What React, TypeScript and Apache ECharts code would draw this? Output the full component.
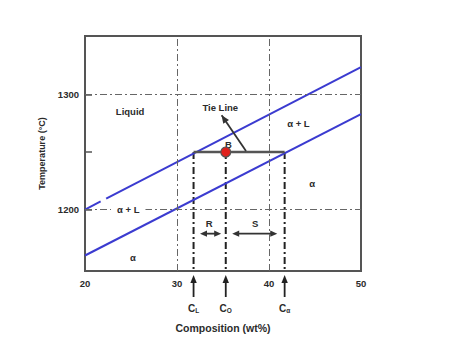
import React, { useEffect, useRef } from "react";
import * as echarts from "echarts";

// ---- data ----
const xRange = [20, 50];
const yRange = [1146.5, 1351];
const yTickValues = [1200, 1250, 1300];
const yLabelValues = [1200, 1300];
const gridXValues = [30, 40];
const gridYValues = [1200, 1300];

const liquidusA = [[20, 1200], [21.7, 1207]];
const liquidusB = [[22.3, 1209.5], [50, 1324]];
const solidus = [[20, 1160], [50, 1283]];

const tieTemp = 1250;
const xCL = 31.8;
const xC0 = 35.3;
const xCa = 41.7;
const tieLine = [[xCL, tieTemp], [xCa, tieTemp]];
const pointB = [[xC0, tieTemp]];

const compMarks = [
  { x: xCL, main: "C", sub: "L" },
  { x: xC0, main: "C", sub: "O" },
  { x: xCa, main: "C", sub: "α" },
];

const regionTexts = [
  { x: 24.9, y: 1285, text: "Liquid", bg: false },
  { x: 34.7, y: 1289, text: "Tie Line", bg: false },
  { x: 43.2, y: 1275, text: "α + L", bg: false },
  { x: 44.7, y: 1223, text: "α", bg: false },
  { x: 24.7, y: 1200, text: "α + L", bg: true },
  { x: 25.2, y: 1158, text: "α", bg: false },
  { x: 33.5, y: 1188, text: "R", bg: false },
  { x: 38.5, y: 1188, text: "S", bg: false },
  { x: 35.6, y: 1257, text: "B", bg: false },
];

// double arrows (R, S) and tie-line pointer arrow
const doubleArrows = [
  { x1: 32.5, x2: 34.8, y: 1179 },
  { x1: 36.0, x2: 40.9, y: 1179 },
];
const pointerArrow = { from: [37.5, 1251], to: [34.85, 1282] };

const FONT = "'Liberation Sans', Arial, sans-serif";
const TXT = "#2b2b2b";

function arrowHead(tip: number[], from: number[], len: number, half: number, color: string) {
  const dx = tip[0] - from[0];
  const dy = tip[1] - from[1];
  const d = Math.sqrt(dx * dx + dy * dy) || 1;
  const ux = dx / d, uy = dy / d;
  const bx = tip[0] - ux * len, by = tip[1] - uy * len;
  return {
    type: "polygon",
    shape: {
      points: [
        [tip[0], tip[1]],
        [bx - uy * half, by + ux * half],
        [bx + uy * half, by - ux * half],
      ],
    },
    style: { fill: color },
  };
}

export default function App() {
  const ref = useRef<HTMLDivElement>(null);
  useEffect(() => {
    if (!ref.current) return;
    const chart = echarts.init(ref.current, null, { renderer: "svg" });

    const dashDot = [7, 3, 2, 3];
    const blue = "#3b3bd0";

    const option: any = {
      animation: false,
      backgroundColor: "#ffffff",
      grid: {
        left: 85,
        top: 36,
        width: 276,
        height: 235,
        show: true,
        borderColor: "#555",
        borderWidth: 2,
        backgroundColor: "transparent",
      },
      xAxis: {
        type: "value",
        min: xRange[0],
        max: xRange[1],
        interval: 10,
        name: "Composition (wt%)",
        nameLocation: "middle",
        nameGap: 51,
        nameTextStyle: { fontFamily: FONT, fontWeight: "bold", fontSize: 10.5, color: TXT },
        axisLine: { show: true, lineStyle: { color: "#555", width: 2 } },
        axisTick: { show: false },
        splitLine: { show: false },
        axisLabel: { formatter: (v: number) => String(v), fontFamily: FONT, fontWeight: "bold", fontSize: 9.5, color: TXT, margin: 7 },
      },
      yAxis: {
        type: "value",
        min: yRange[0],
        max: yRange[1],
        name: "Temperature (°C)",
        nameLocation: "middle",
        nameGap: 35,
        nameTextStyle: { fontFamily: FONT, fontWeight: "bold", fontSize: 9, color: TXT },
        axisLine: { show: true, lineStyle: { color: "#555", width: 2 } },
        axisTick: { show: true, inside: true, length: 7, customValues: yTickValues, lineStyle: { color: "#555", width: 1.5 } },
        splitLine: { show: false },
        axisLabel: { customValues: yLabelValues, formatter: (v: number) => String(v), fontFamily: FONT, fontWeight: "bold", fontSize: 9.5, color: TXT, margin: 6 },
      },
      series: [
        {
          type: "line",
          data: [],
          silent: true,
          markLine: {
            silent: true,
            symbol: ["none", "none"],
            label: { show: false },
            lineStyle: { color: "#666", width: 1, type: dashDot },
            data: [
              ...gridXValues.map((v) => ({ xAxis: v })),
              ...gridYValues.map((v) => ({ yAxis: v })),
            ],
          },
        },
        // heavy composition lines from tie line down to axis
        ...compMarks.map((c) => ({
          type: "line",
          data: [[c.x, tieTemp], [c.x, yRange[0]]],
          symbol: "none",
          lineStyle: { color: "#222", width: 2, type: dashDot },
          silent: true,
        })),
        {
          type: "line",
          data: liquidusA,
          symbol: "none",
          lineStyle: { color: blue, width: 2 },
          silent: true,
        },
        {
          type: "line",
          data: liquidusB,
          symbol: "none",
          lineStyle: { color: blue, width: 2 },
          silent: true,
        },
        {
          type: "line",
          data: solidus,
          symbol: "none",
          lineStyle: { color: blue, width: 2 },
          silent: true,
        },
        {
          type: "line",
          data: tieLine,
          symbol: "none",
          lineStyle: { color: "#555", width: 2.5 },
          silent: true,
          z: 3,
        },
        // tie line pointer arrow
        {
          type: "custom",
          clip: false,
          silent: true,
          data: [0],
          z: 4,
          renderItem: (_p: any, api: any) => {
            const a = api.coord(pointerArrow.from);
            const b = api.coord(pointerArrow.to);
            return {
              type: "group",
              children: [
                { type: "line", shape: { x1: a[0], y1: a[1], x2: b[0], y2: b[1] }, style: { stroke: "#333", lineWidth: 1.8 } },
                arrowHead(b, a, 8, 3.5, "#333"),
              ],
            };
          },
        },
        // R and S double arrows
        {
          type: "custom",
          clip: false,
          silent: true,
          data: doubleArrows.map((_, i) => i),
          z: 4,
          renderItem: (params: any, api: any) => {
            const d = doubleArrows[params.dataIndex];
            const a = api.coord([d.x1, d.y]);
            const b = api.coord([d.x2, d.y]);
            return {
              type: "group",
              children: [
                { type: "line", shape: { x1: a[0] + 4, y1: a[1], x2: b[0] - 4, y2: b[1] }, style: { stroke: "#333", lineWidth: 1.8 } },
                arrowHead(a, b, 7, 3.2, "#333"),
                arrowHead(b, a, 7, 3.2, "#333"),
              ],
            };
          },
        },
        // arrows and labels below the axis
        {
          type: "custom",
          clip: false,
          silent: true,
          data: compMarks.map((_, i) => i),
          z: 4,
          renderItem: (params: any, api: any) => {
            const c = compMarks[params.dataIndex];
            const p = api.coord([c.x, yRange[0]]);
            const tip = [p[0], p[1] + 4];
            const tail = [p[0], p[1] + 26];
            return {
              type: "group",
              children: [
                { type: "line", shape: { x1: tail[0], y1: tail[1], x2: tip[0], y2: tip[1] + 5 }, style: { stroke: "#222", lineWidth: 1.8 } },
                arrowHead(tip, tail, 8, 3.2, "#222"),
                {
                  type: "text",
                  x: p[0],
                  y: p[1] + 37,
                  style: {
                    text: `{m|${c.main}}{s|${c.sub}}`,
                    align: "center",
                    verticalAlign: "middle",
                    rich: {
                      m: { fontFamily: FONT, fontWeight: "bold", fontSize: 10, fill: TXT },
                      s: { fontFamily: FONT, fontWeight: "bold", fontSize: 6.5, fill: TXT, padding: [5, 0, 0, 0] },
                    },
                  },
                },
              ],
            };
          },
        },
        // region / annotation texts
        {
          type: "custom",
          clip: false,
          silent: true,
          data: regionTexts.map((_, i) => i),
          z: 5,
          renderItem: (params: any, api: any) => {
            const t = regionTexts[params.dataIndex];
            const p = api.coord([t.x, t.y]);
            return {
              type: "text",
              x: p[0],
              y: p[1],
              style: {
                text: t.text,
                align: "center",
                verticalAlign: "middle",
                fontFamily: FONT,
                fontWeight: "bold",
                fontSize: 9.5,
                fill: TXT,
                backgroundColor: t.bg ? "#ffffff" : undefined,
                padding: t.bg ? [3, 6] : 0,
              },
            };
          },
        },
        {
          type: "scatter",
          data: pointB,
          symbolSize: 10,
          itemStyle: { color: "#e0201c", borderColor: "#555", borderWidth: 1.2, opacity: 1 },
          silent: true,
          z: 6,
        },
      ],
    };
    chart.setOption(option);
    return () => chart.dispose();
  }, []);
  return (
    <div
      ref={ref}
      style={{ position: "absolute", left: 0, top: 0, width: 474, height: 355 }}
    />
  );
}
